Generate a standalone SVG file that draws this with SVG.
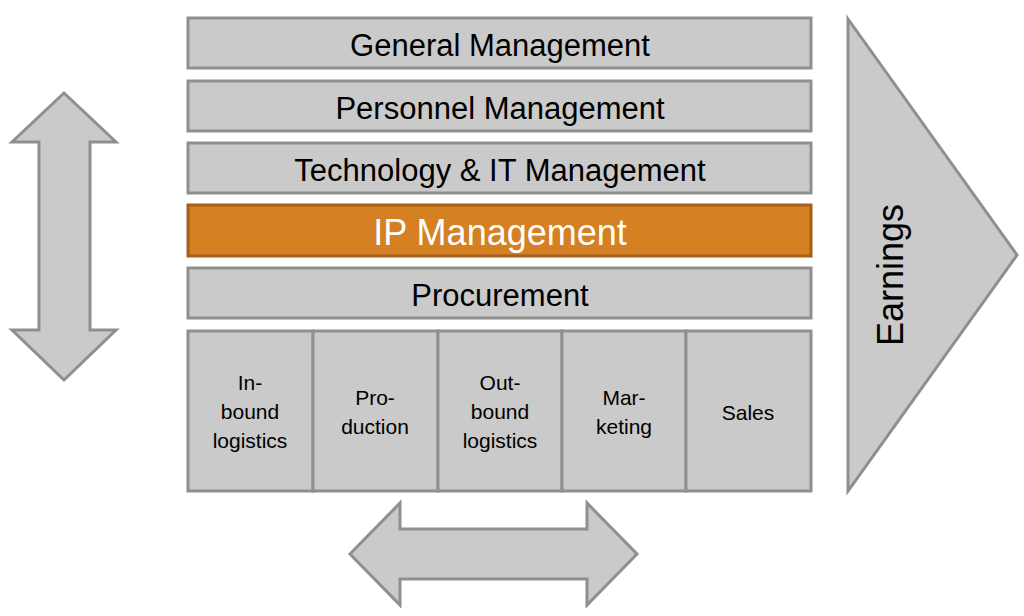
<svg xmlns="http://www.w3.org/2000/svg" width="1024" height="616" viewBox="0 0 1024 616">
<style>
.b{fill:#cacaca;stroke:#8f8f8f;stroke-width:3}
.o{fill:#d58022;stroke:#a3611b;stroke-width:3}
.t{font-family:"Liberation Sans",Arial,sans-serif;fill:#000;text-anchor:middle}
.l{font-size:31px}.s{font-size:21px}
</style>
<rect width="1024" height="616" fill="#fff"/>
<g id="arrow-vertical"><polygon class="b" points="64,93 116,142 90,142 90,330 116,330 64,380 12,330 39,330 39,142 12,142"/></g>
<g id="arrow-horizontal"><polygon class="b" points="350,554 400,503 400,529 587,529 587,503 637,554 587,605 587,579 400,579 400,605"/></g>
<g id="earnings"><polygon class="b" points="848,19 1017,255 848,491"/><text class="t" font-size="36" transform="translate(903,275) rotate(-90)">Earnings</text></g>
<g id="general"><rect class="b" x="188" y="18" width="623" height="50"/><text class="t l" x="500" y="56">General Management</text></g>
<g id="personnel"><rect class="b" x="188" y="81" width="623" height="50"/><text class="t l" x="500" y="119">Personnel Management</text></g>
<g id="tech"><rect class="b" x="188" y="143" width="623" height="50"/><text class="t l" x="500" y="181">Technology &amp; IT Management</text></g>
<g id="ip"><rect class="o" x="188" y="205" width="623" height="51"/><text class="t" font-size="36" fill="#fff" style="fill:#fff" x="500" y="245">IP Management</text></g>
<g id="procurement"><rect class="b" x="188" y="268" width="623" height="50"/><text class="t l" x="500" y="306">Procurement</text></g>
<g id="inbound"><rect class="b" x="188" y="331" width="125" height="160"/><text class="t s" x="250" y="390">In-</text><text class="t s" x="250" y="419">bound</text><text class="t s" x="250" y="448">logistics</text></g>
<g id="production"><rect class="b" x="313" y="331" width="125" height="160"/><text class="t s" x="375" y="405">Pro-</text><text class="t s" x="375" y="434">duction</text></g>
<g id="outbound"><rect class="b" x="438" y="331" width="124" height="160"/><text class="t s" x="500" y="390">Out-</text><text class="t s" x="500" y="419">bound</text><text class="t s" x="500" y="448">logistics</text></g>
<g id="marketing"><rect class="b" x="562" y="331" width="124" height="160"/><text class="t s" x="624" y="405">Mar-</text><text class="t s" x="624" y="434">keting</text></g>
<g id="sales"><rect class="b" x="686" y="331" width="125" height="160"/><text class="t s" x="748" y="420">Sales</text></g>
<g id="connectors"/>
</svg>
